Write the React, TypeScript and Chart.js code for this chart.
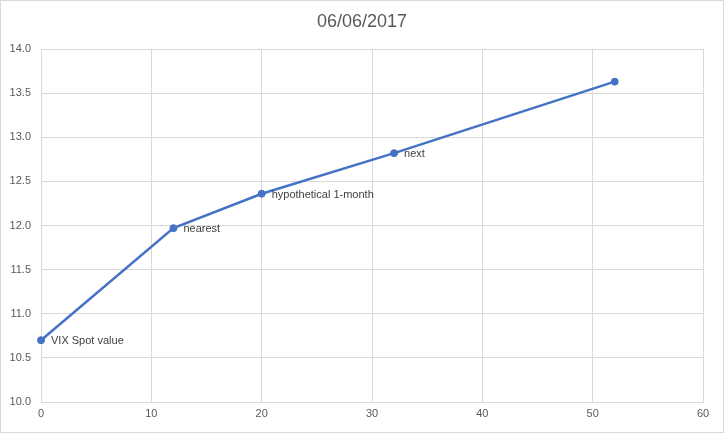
import React, { useEffect, useRef } from "react";
import { Chart, registerables } from "chart.js";

Chart.register(...registerables);

const chartTitle = "06/06/2017";
const daysToExpiry = [0, 12, 20, 32, 52];
const vixValues = [10.7, 11.97, 12.36, 12.82, 13.63];
const pointLabels = ["VIX Spot value", "nearest", "hypothetical 1-month", "next", ""];

const FONT = "'Liberation Sans', Arial, sans-serif";

const labelPlugin = {
  id: "pointLabels",
  afterDatasetsDraw(chart: any) {
    const ctx = chart.ctx;
    const meta = chart.getDatasetMeta(0);
    ctx.save();
    ctx.font = `11px ${FONT}`;
    ctx.fillStyle = "#404040";
    ctx.textAlign = "left";
    ctx.textBaseline = "middle";
    meta.data.forEach((pt: any, i: number) => {
      const t = pointLabels[i];
      if (t) ctx.fillText(t, pt.x + 10, pt.y + 1);
    });
    ctx.restore();
  },
  afterDraw(chart: any) {
    const ctx = chart.ctx;
    ctx.save();
    ctx.font = `18px ${FONT}`;
    ctx.fillStyle = "#595959";
    ctx.textAlign = "center";
    ctx.textBaseline = "middle";
    ctx.fillText(chartTitle, 361, 21);
    ctx.restore();
  },
};

export default function App() {
  const ref = useRef<HTMLCanvasElement>(null);
  useEffect(() => {
    if (!ref.current) return;
    const chart = new Chart(ref.current, {
      type: "scatter",
      data: {
        datasets: [
          {
            data: daysToExpiry.map((x, i) => ({ x, y: vixValues[i] })),
            showLine: true,
            clip: false,
            borderColor: "#4472C4",
            backgroundColor: "#4472C4",
            borderWidth: 2.5,
            pointRadius: 3.5,
            pointBorderWidth: 1,
            pointBackgroundColor: "#4472C4",
            pointBorderColor: "#4472C4",
          },
        ],
      },
      options: {
        animation: false,
        responsive: false,
        maintainAspectRatio: false,
        layout: { padding: { top: 48, right: 20, bottom: 0, left: 0 } },
        plugins: {
          legend: { display: false },
          title: { display: false },
          tooltip: { enabled: false },
        },
        scales: {
          x: {
            type: "linear",
            min: 0,
            max: 60,
            ticks: { stepSize: 10, color: "#595959", font: { size: 11, family: FONT }, padding: 5 },
            grid: { color: "#d9d9d9", drawTicks: false },
            border: { color: "#d9d9d9" },
            afterFit: (s: any) => { s.height = 30; },
          },
          y: {
            type: "linear",
            min: 10,
            max: 14,
            ticks: {
              stepSize: 0.5,
              color: "#595959",
              font: { size: 11, family: FONT },
              padding: 10,
              callback: (v: any) => Number(v).toFixed(1),
            },
            grid: { color: "#d9d9d9", drawTicks: false },
            border: { color: "#d9d9d9" },
            afterFit: (s: any) => { s.width = 40; },
          },
        },
      },
      plugins: [labelPlugin],
    });
    return () => chart.destroy();
  }, []);
  return (
    <div
      style={{
        position: "fixed",
        left: 0,
        top: 0,
        width: 724,
        height: 433,
        boxSizing: "border-box",
        border: "1px solid #d9d9d9",
        background: "#fff",
        overflow: "hidden",
      }}
    >
      <canvas ref={ref} width={722} height={431} style={{ display: "block", width: 722, height: 431 }} />
    </div>
  );
}
